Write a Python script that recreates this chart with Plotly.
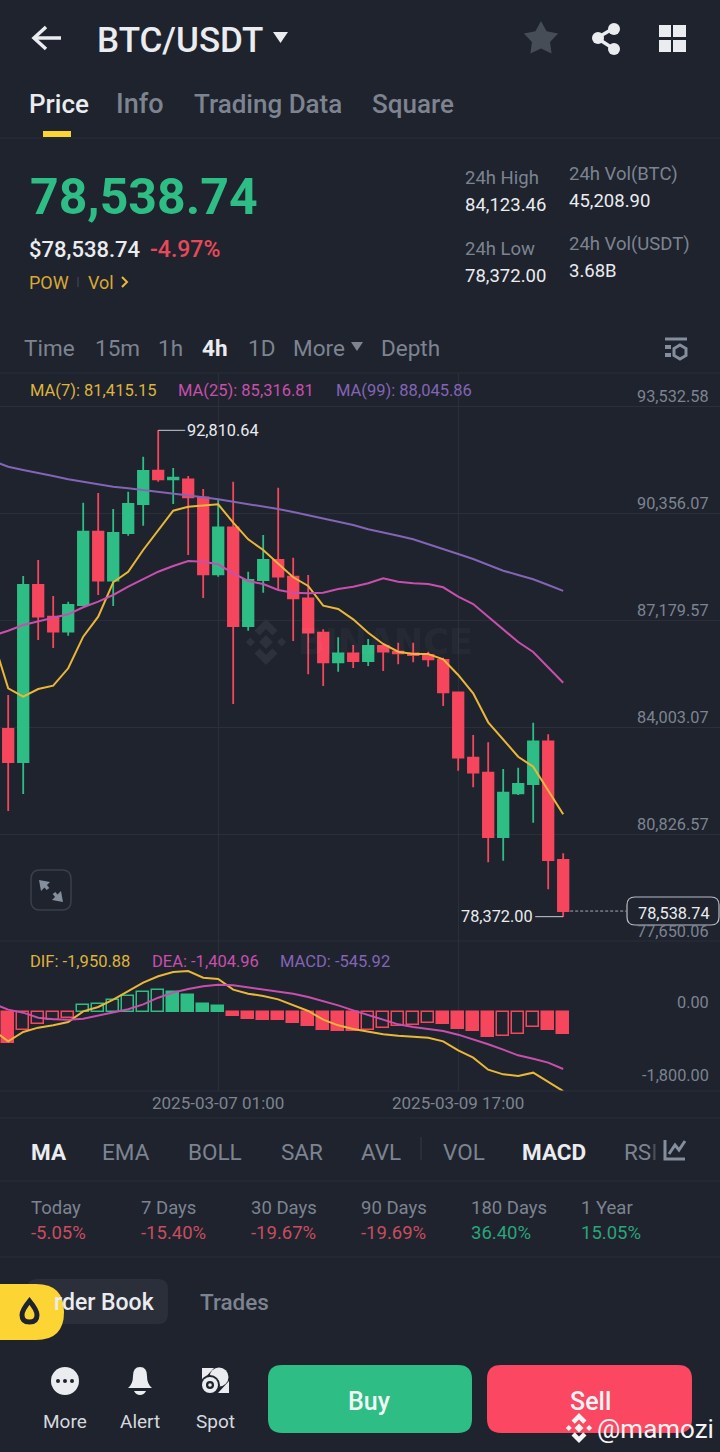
import math
import pandas as pd
import plotly.graph_objects as go

W, H = 720, 1452
BG = "#1e232e"
GRID = "#2a2f3a"
GREEN = "#2ebd85"
RED = "#f6465d"
GRAY = "#7d8490"
WHITE = "#eaecef"
FONT = "Roboto"

# 4h candles, first entry sits just off the left edge and only feeds the lines
times = pd.date_range("2025-03-04 13:00", periods=39, freq="4h")

opens = [83944, 82964, 88219, 87277, 86832, 87625, 89801, 88346, 89762, 90623, 91612, 91356, 91356,
         90822, 88536, 89931, 87001, 88367, 88961, 88465, 87824, 86803, 85924, 86191, 85962, 86408,
         86239, 86191, 86140, 85992, 85033, 83092, 82646, 80737, 82035, 82311, 83578, 80055]
highs = [84953, 88486, 88961, 87892, 87723, 90662, 90950, 90475, 90988, 92028, 92810.64, 91692, 91454,
         91069, 90763, 91285, 88613, 89703, 91107, 89029, 88515, 86903, 86666, 86437, 86615, 86420,
         86506, 86506, 86239, 86060, 85040, 83766, 83549, 82756, 82795, 84131, 83786, 80254]
lows = [81509, 82014, 86586, 86348, 86713, 87625, 87922, 87595, 89682, 89979, 91285, 90623, 89109,
        87833, 88465, 84686, 86862, 87990, 88070, 86556, 85567, 85220, 85645, 85755, 85814, 85665,
        85864, 85924, 85793, 84626, 82706, 82213, 79986, 80034, 81984, 81162, 79185, 78372.00]
closes = [82964, 88219, 87277, 86832, 87625, 89801, 88346, 89762, 90623, 91603, 91356, 91404, 90822,
          88536, 89931, 87001, 88367, 88961, 88465, 87824, 86803, 85924, 86191, 85962, 86408, 86239,
          86191, 86140, 86013, 85033, 83092, 82646, 80737, 82053, 82311, 83578, 80055, 78538.74]

ma7 = [86586, 85152, 84903, 85131, 85229, 85746, 86684, 87277, 88299, 88613, 89258, 89851, 90424,
       90543, 90585, 90614, 90068, 89575, 89258, 88842, 88447, 88189, 87604, 87506, 87200, 86803,
       86467, 86239, 86170, 86170, 86013, 85547, 85003, 84142, 83617, 83121, 82824, 82133, 81415.15]
ma25 = [86719, 86862, 87031, 87129, 87248, 87349, 87557, 87723, 87922, 88168, 88388, 88613, 88783,
        88931, 88910, 88833, 88566, 88337, 88248, 88070, 87990, 87972, 87990, 88100, 88168, 88269,
        88417, 88317, 88269, 88248, 88150, 87871, 87655, 87277, 86883, 86526, 86230, 85784, 85316.81]
ma99 = [91900, 91730, 91633, 91553, 91454, 91356, 91285, 91208, 91137, 91089, 91039, 90970, 90941,
        90890, 90822, 90763, 90692, 90623, 90564, 90475, 90386, 90288, 90178, 90089, 90000, 89872,
        89783, 89682, 89575, 89436, 89296, 89139, 88990, 88812, 88643, 88515, 88388, 88219, 88045.86]

dif = [-452, -723, -493, -386, -329, -247, 16, 123, 304, 518, 723, 880, 986, 1011, 847, 814, 551, 452,
       395, 312, 164, 25, -189, -329, -419, -493, -551, -584, -617, -633, -723, -945, -1126, -1422,
       -1537, -1578, -1496, -1726, -1950.88]
dea = [205, 58, -16, -140, -181, -189, -164, -90, -16, 66, 189, 353, 477, 567, 633, 674, 658, 608, 567,
       518, 452, 370, 271, 164, 41, -74, -205, -304, -370, -411, -469, -559, -674, -797, -929, -1069,
       -1151, -1249, -1404.96]
macd = [-764, -436, -288, -189, -148, 164, 205, 304, 395, 493, 534, 493, 427, 205, 140, -107, -181,
        -185, -205, -263, -353, -452, -469, -475, -436, -386, -345, -312, -271, -288, -411, -477, -617,
        -600, -534, -370, -436, -545.92]

price_ticks = [93532.58, 90356.07, 87179.57, 84003.07, 80826.57, 77650.06]
macd_ticks = [0, -1800]
date_ticks = ["2025-03-07 01:00", "2025-03-09 17:00"]

periods = ["Today", "7 Days", "30 Days", "90 Days", "180 Days", "1 Year"]
period_changes = [-5.05, -15.40, -19.67, -19.69, 36.40, 15.05]


def yp(y):
    return 1 - y / H


def pt(x, y):
    return f"{x / W:.5f},{yp(y):.5f}"


def poly(points, close=True):
    s = "M" + " L".join(pt(x, y) for x, y in points)
    return s + (" Z" if close else "")


def rrect(x0, y0, x1, y1, r):
    return (f"M{pt(x0 + r, y0)} L{pt(x1 - r, y0)} Q{pt(x1, y0)} {pt(x1, y0 + r)} "
            f"L{pt(x1, y1 - r)} Q{pt(x1, y1)} {pt(x1 - r, y1)} L{pt(x0 + r, y1)} "
            f"Q{pt(x0, y1)} {pt(x0, y1 - r)} L{pt(x0, y0 + r)} Q{pt(x0, y0)} {pt(x0 + r, y0)} Z")


shapes = []
annotations = []


def fill(path, color):
    shapes.append(dict(type="path", xref="paper", yref="paper", path=path, fillcolor=color,
                       line=dict(width=0), layer="above"))


def stroke(path, color, width, fillcolor="rgba(0,0,0,0)"):
    shapes.append(dict(type="path", xref="paper", yref="paper", path=path, fillcolor=fillcolor,
                       line=dict(color=color, width=width), layer="above"))


def circle(cx, cy, r, color):
    shapes.append(dict(type="circle", xref="paper", yref="paper", x0=(cx - r) / W, x1=(cx + r) / W,
                       y0=yp(cy + r), y1=yp(cy - r), fillcolor=color, line=dict(width=0), layer="above"))


def hline(y, color=GRID, x0=0, x1=W, width=1):
    stroke(poly([(x0, y), (x1, y)], close=False), color, width)


def txt(x, y, s, size, color, weight=400, anchor="left", family=FONT):
    # annotations carry about a pixel of padding, take it back
    dx = {"left": -1.2, "right": 1.2, "center": 0}[anchor]
    annotations.append(dict(x=(x + dx) / W, y=yp(y), xref="paper", yref="paper", text=s, showarrow=False,
                            xanchor=anchor, yanchor="middle", borderpad=0,
                            font=dict(family=family, size=size, color=color, weight=weight)))


def logo(cx, cy, s, color):
    for dx, r in [(0, 0.3), (-0.68, 0.2), (0.68, 0.2)]:
        fill(poly([(cx + dx * s, cy - r * s), (cx + (dx + r) * s, cy), (cx + dx * s, cy + r * s),
                   (cx + (dx - r) * s, cy)]), color)
    for sign in (-1, 1):
        fill(poly([(cx, cy + sign * s), (cx + 0.5 * s, cy + sign * 0.5 * s), (cx + 0.28 * s, cy + sign * 0.28 * s),
                   (cx, cy + sign * 0.56 * s), (cx - 0.28 * s, cy + sign * 0.28 * s),
                   (cx - 0.5 * s, cy + sign * 0.5 * s)]), color)


fig = go.Figure()

# price pane
fig.add_trace(go.Candlestick(x=times[1:], open=opens, high=highs, low=lows, close=closes,
                             increasing=dict(line=dict(color=GREEN, width=1.8), fillcolor=GREEN),
                             decreasing=dict(line=dict(color=RED, width=1.8), fillcolor=RED),
                             whiskerwidth=0, hoverinfo="skip", showlegend=False))
for vals, col in [(ma7, "#eab737"), (ma25, "#c94fac"), (ma99, "#8465b5")]:
    fig.add_trace(go.Scatter(x=times, y=vals, mode="lines", line=dict(color=col, width=2),
                             hoverinfo="skip", showlegend=False))

# macd pane, hollow when the bar rises against the one before it
bar_fill = []
bar_line = []
for i, v in enumerate(macd):
    col = GREEN if v >= 0 else RED
    hollow = i > 0 and v > macd[i - 1]
    bar_fill.append("rgba(0,0,0,0)" if hollow else col)
    bar_line.append(col)
fig.add_trace(go.Bar(x=times[1:], y=macd, xaxis="x2", yaxis="y2", width=4 * 3600 * 1000 * 0.8,
                     marker=dict(color=bar_fill, line=dict(color=bar_line, width=1.5)),
                     hoverinfo="skip", showlegend=False))
for vals, col in [(dif, "#eab737"), (dea, "#c94fac")]:
    fig.add_trace(go.Scatter(x=times, y=vals, xaxis="x2", yaxis="y2", mode="lines",
                             line=dict(color=col, width=2), hoverinfo="skip", showlegend=False))

# axis window: 15 px per candle, first real candle centred near x=8.5
x_start = times[1] - pd.Timedelta(hours=4) * (8.2 / 15)
x_end = x_start + pd.Timedelta(hours=4) * (W / 15)
price_per_px = (price_ticks[0] - price_ticks[-1]) / (941 - 406.0)
macd_per_px = 1800 / 73.0

# labels on the value axes
for v in price_ticks:
    annotations.append(dict(x=711 / W, y=v, xref="paper", yref="y", text=f"{v:,.2f}", showarrow=False,
                            xanchor="right", yanchor="middle", yshift=10,
                            font=dict(family=FONT, size=16.3, color=GRAY)))
for v in macd_ticks:
    annotations.append(dict(x=711 / W, y=v, xref="paper", yref="y2", text=f"{v:,.2f}", showarrow=False,
                            xanchor="right", yanchor="middle", yshift=10,
                            font=dict(family=FONT, size=16.3, color=GRAY)))

# high / low / last callouts
hi_i = highs.index(max(highs))
lo_i = lows.index(min(lows))
shapes.append(dict(type="line", xref="x", xsizemode="pixel", xanchor=times[1:][hi_i], x0=0, x1=27,
                   yref="y", y0=highs[hi_i], y1=highs[hi_i], line=dict(color="#c8ccd3", width=1), layer="above"))
annotations.append(dict(x=times[1:][hi_i], y=highs[hi_i], xref="x", yref="y", text=f"{highs[hi_i]:,.2f}",
                        showarrow=False, xanchor="left", yanchor="middle", xshift=27,
                        font=dict(family=FONT, size=16.3, color=WHITE)))
shapes.append(dict(type="line", xref="x", xsizemode="pixel", xanchor=times[1:][lo_i], x0=-28, x1=0,
                   yref="y", y0=lows[lo_i], y1=lows[lo_i], line=dict(color="#c8ccd3", width=1), layer="above"))
annotations.append(dict(x=times[1:][lo_i], y=lows[lo_i], xref="x", yref="y", text=f"{lows[lo_i]:,.2f}",
                        showarrow=False, xanchor="right", yanchor="middle", xshift=-28,
                        font=dict(family=FONT, size=16.3, color=WHITE)))
shapes.append(dict(type="line", xref="x", xsizemode="pixel", xanchor=times[-1], x0=7, x1=63,
                   yref="y", y0=closes[-1], y1=closes[-1],
                   line=dict(color="#a4a9b2", width=1, dash="3px,2px"), layer="above"))

# pane frames
hline(138)
hline(373)
hline(941)
hline(1091)
hline(1118)
hline(1181)
hline(1257)

# header
stroke(poly([(61, 38), (35, 38)], close=False), WHITE, 3.5)
stroke(poly([(46, 27), (34, 38), (46, 49)], close=False), WHITE, 3.5)
txt(97, 40, "BTC/USDT", 35, WHITE, 500)
fill(poly([(273, 32), (288, 32), (280.5, 43)]), WHITE)
star = []
for k in range(10):
    r = 18 if k % 2 == 0 else 9.5
    a = -math.pi / 2 + k * math.pi / 5
    star.append((541 + r * math.cos(a), 39 + r * math.sin(a)))
fill(poly(star), "#474d57")
stroke(poly([(614, 28), (597, 38), (614, 49)], close=False), WHITE, 3.5)
circle(614, 29, 6, WHITE)
circle(598, 38, 6, WHITE)
circle(614, 49, 6, WHITE)
for x0, x1 in [(659, 671), (673, 686)]:
    for y0, y1 in [(25, 37), (40, 52)]:
        fill(poly([(x0, y0), (x1, y0), (x1, y1), (x0, y1)]), WHITE)

txt(29, 104, "Price", 26, WHITE, 500)
txt(116, 104, "Info", 27, GRAY, 500)
txt(194, 104, "Trading Data", 26, GRAY, 500)
txt(372, 104, "Square", 26, GRAY, 500)
fill(poly([(43, 131), (71, 131), (71, 137), (43, 137)]), "#fcd535")

# price block
txt(30, 197, "78,538.74", 50, GREEN, 700)
txt(29, 249, "$78,538.74", 22, WHITE, 500)
txt(150, 249, "-4.97%", 23, "#e8495a", 500)
txt(29, 282, "POW", 18, "#d9a933")
stroke(poly([(78, 277), (78, 287)], close=False), "#474d57", 1)
txt(88, 282, "Vol", 18, "#d9a933")
stroke(poly([(122, 277), (127, 282), (122, 287)], close=False), "#e8b93a", 2)

txt(465, 178, "24h High", 18.5, GRAY)
txt(465, 205, "84,123.46", 18.5, WHITE)
txt(465, 249, "24h Low", 18.5, GRAY)
txt(465, 276, "78,372.00", 18.5, WHITE)
txt(569, 174, "24h Vol(BTC)", 18.5, GRAY)
txt(569, 201, "45,208.90", 18.5, WHITE)
txt(569, 244, "24h Vol(USDT)", 18.5, GRAY)
txt(569, 271, "3.68B", 18.5, WHITE)

# interval row
for x, s in [(24, "Time"), (95, "15m"), (158, "1h"), (248, "1D"), (293, "More"), (381, "Depth")]:
    txt(x, 348, s, 22.5, GRAY)
txt(202, 348, "4h", 22.5, WHITE, 700)
fill(poly([(351, 342), (363, 342), (357, 351)]), GRAY)
hline(339, "#848e9c", 665, 687, 3)
fill(poly([(665, 345), (671, 345), (671, 349), (665, 349)]), "#848e9c")
fill(poly([(665, 353), (671, 353), (671, 357), (665, 357)]), "#848e9c")
stroke(poly([(680, 345), (686, 348.5), (686, 355.5), (680, 359), (674, 355.5), (674, 348.5)]), "#848e9c", 3)

# legends
txt(30, 390, "MA(7): 81,415.15", 16.5, "#dfb43c")
txt(178, 390, "MA(25): 85,316.81", 16.5, "#c94fac")
txt(336, 390, "MA(99): 88,045.86", 16.5, "#8465b5")
txt(30, 961, "DIF: -1,950.88", 16.5, "#dfb43c")
txt(152, 961, "DEA: -1,404.96", 16.5, "#c94fac")
txt(280, 961, "MACD: -545.92", 16.5, "#8465b5")

# watermark
logo(266, 642, 23, "#2c313c")
txt(298, 642, "BINANCE", 35, "rgba(255,255,255,0.055)", 700, "left", "DejaVu Sans")

# expand button
stroke(rrect(31, 870, 71, 910, 9), "#3a404b", 1.5)
stroke(poly([(43, 883), (48, 889)], close=False), "#848e9c", 3.5)
stroke(poly([(54, 893), (59, 899)], close=False), "#848e9c", 3.5)
fill(poly([(39, 880), (50, 882), (41, 891)]), "#848e9c")
fill(poly([(63, 902), (52, 900), (61, 891)]), "#848e9c")

# last price tag
stroke(rrect(627, 897, 719, 925, 8), "#b7bdc6", 1.2, BG)
txt(710, 913, "78,538.74", 16.3, WHITE, 400, "right")

# indicator tabs
txt(31, 1152, "MA", 22.5, WHITE, 700)
for x, s in [(102, "EMA"), (188, "BOLL"), (281, "SAR"), (361, "AVL"), (443, "VOL")]:
    txt(x, 1152, s, 22.5, GRAY)
txt(522, 1152, "MACD", 22.5, WHITE, 700)
txt(624, 1152, "RS<span style='color:#4a4f5a'>I</span>", 22.5, GRAY)
stroke(poly([(421, 1137), (421, 1160)], close=False), "#353a45", 1)
stroke(poly([(665, 1140), (665, 1159), (685, 1159)], close=False), "#848e9c", 3)
stroke(poly([(669, 1154), (675, 1145), (679, 1150), (685, 1141)], close=False), "#848e9c", 3)

# performance row
period_x = [31, 141, 251, 361, 471, 581]
for x, name, chg in zip(period_x, periods, period_changes):
    txt(x, 1208, name, 18.5, GRAY)
    txt(x, 1233, f"{chg:.2f}%", 18.5, "#c94d5e" if chg < 0 else "#2ba57b")

# order book tabs
fill(rrect(27, 1279, 168, 1324, 10), "#2b2f3a")
txt(155, 1302, "rder Book", 23, WHITE, 500, "right")
txt(200, 1302, "Trades", 22.5, GRAY, 500)
fill(f"M{pt(0, 1284)} L{pt(36, 1284)} Q{pt(64, 1284)} {pt(64, 1312)} Q{pt(64, 1340)} {pt(36, 1340)} L{pt(0, 1340)} Z",
     "#fcd535")
stroke(f"M{pt(29.5, 1301)} Q{pt(22, 1310)} {pt(22, 1315)} Q{pt(22, 1322)} {pt(29.5, 1322)} "
       f"Q{pt(37, 1322)} {pt(37, 1315)} Q{pt(37, 1310)} {pt(29.5, 1301)} Z", "#1e232e", 5)

# bottom bar
circle(65, 1381, 14, WHITE)
for dx in (-7, 0, 7):
    circle(65 + dx, 1381, 2, BG)
fill(f"M{pt(128, 1388)} Q{pt(133, 1384)} {pt(133, 1376)} Q{pt(133, 1367)} {pt(140, 1367)} "
     f"Q{pt(147, 1367)} {pt(147, 1376)} Q{pt(147, 1384)} {pt(152, 1388)} Z", WHITE)
fill(f"M{pt(134, 1391)} L{pt(146, 1391)} Q{pt(144, 1395)} {pt(140, 1395)} Q{pt(136, 1395)} {pt(134, 1391)} Z", WHITE)
# spot glyph: corner wedges, round top right, ringed disc lower left
fill(poly([(202, 1368), (214, 1368), (202, 1381)]), WHITE)
fill(poly([(229, 1381), (229, 1393), (218, 1393)]), WHITE)
circle(219, 1377, 9.5, WHITE)
circle(210, 1385, 10, BG)
circle(210, 1385, 8, WHITE)
circle(210, 1385, 4, BG)
circle(210, 1385, 1.8, WHITE)
txt(65, 1421, "More", 19, "#d5d8de", 400, "center")
txt(140, 1421, "Alert", 19, "#d5d8de", 400, "center")
txt(215, 1421, "Spot", 19, "#d5d8de", 400, "center")

fill(rrect(268, 1365, 472, 1433, 14), "#2ebd85")
fill(rrect(487, 1365, 692, 1433, 14), "#fb4761")
txt(370, 1401, "Buy", 25, "#f2f5f5", 500, "center")
txt(590, 1401, "Sell", 25, "#f2f5f5", 500, "center")
logo(579, 1428, 15, "#f4f4f4")
txt(597, 1429, "@mamozi", 26, "#f4f4f4", 400)

fig.update_layout(
    width=W, height=H, autosize=False,
    margin=dict(l=0, r=0, t=0, b=0, pad=0),
    paper_bgcolor=BG, plot_bgcolor=BG,
    showlegend=False, barmode="overlay", boxgap=0, bargap=0,
    font=dict(family=FONT),
    shapes=shapes, annotations=annotations,
    xaxis=dict(domain=[0, 1], anchor="y", range=[x_start, x_end], rangeslider=dict(visible=False),
               showticklabels=False, tickmode="array", tickvals=date_ticks, showgrid=True,
               gridcolor=GRID, gridwidth=1, zeroline=False, showline=False, ticks=""),
    yaxis=dict(domain=[yp(941), yp(373)], anchor="x", side="right",
               range=[price_ticks[-1], price_ticks[-1] + (941 - 373) * price_per_px],
               tickmode="array", tickvals=price_ticks, showticklabels=False, showgrid=True,
               gridcolor=GRID, gridwidth=1, zeroline=False, showline=False, ticks=""),
    xaxis2=dict(domain=[0, 1], anchor="y2", range=[x_start, x_end], tickmode="array", tickvals=date_ticks,
                tickformat="%Y-%m-%d %H:%M", tickfont=dict(family=FONT, size=17, color=GRAY),
                showgrid=True, gridcolor=GRID, gridwidth=1, zeroline=False, showline=False, ticks=""),
    yaxis2=dict(domain=[yp(1091), yp(941)], anchor="x2", side="right",
                range=[-(1091 - 1012) * macd_per_px, (1012 - 941) * macd_per_px],
                showticklabels=False, showgrid=False, zeroline=False, showline=False, ticks=""),
)

fig.write_html("out.html", config={"displayModeBar": False},
               post_script="document.body.style.margin='0';document.body.style.background='" + BG + "';")
